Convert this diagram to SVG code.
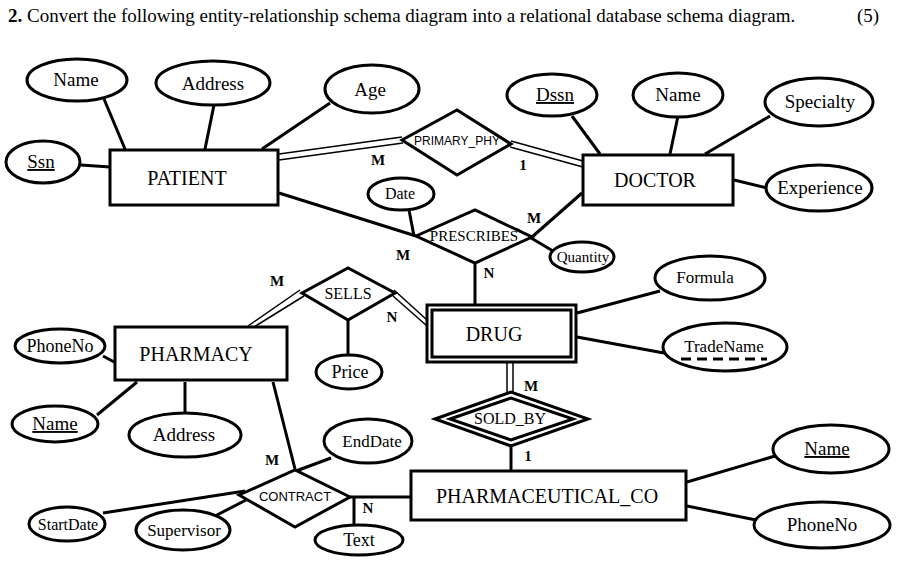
<svg xmlns="http://www.w3.org/2000/svg" width="905" height="561" viewBox="0 0 905 561">
<style>
.s{fill:#fff;stroke:#000;stroke-width:3}
.l{stroke:#000;stroke-width:3;fill:none}
.d{stroke:#000;stroke-width:1.5;fill:none}
text{font-family:"Liberation Serif",serif;fill:#000;text-anchor:middle}
.e{font-size:20px}
.a{font-size:19px}
.ss{font-family:"Liberation Sans",sans-serif}
.c{font-size:15px;font-weight:bold}
</style>
<rect width="905" height="561" fill="#fff"/>
<text x="8" y="22" font-size="19" style="text-anchor:start"><tspan font-weight="bold">2.</tspan> Convert the following entity-relationship schema diagram into a relational database schema diagram.</text>
<text x="868" y="22" font-size="19">(5)</text>
<g id="connectors">
<line class="l" x1="104" y1="99" x2="125" y2="149"/>
<line class="l" x1="214" y1="105" x2="205" y2="149"/>
<line class="l" x1="330" y1="103" x2="262" y2="149"/>
<line class="l" x1="81" y1="165" x2="110" y2="167"/>
<line class="d" x1="279" y1="154" x2="402" y2="137"/>
<line class="d" x1="279" y1="160" x2="403" y2="143"/>
<line class="d" x1="511" y1="141" x2="583" y2="161"/>
<line class="d" x1="510" y1="147" x2="583" y2="167"/>
<line class="l" x1="572" y1="116" x2="600" y2="154"/>
<line class="l" x1="678" y1="116" x2="670" y2="154"/>
<line class="l" x1="770" y1="116" x2="705" y2="154"/>
<line class="l" x1="767" y1="188" x2="734" y2="180"/>
<line class="l" x1="279" y1="193" x2="416" y2="236"/>
<line class="l" x1="409" y1="210" x2="414" y2="236"/>
<line class="l" x1="582" y1="193" x2="532" y2="237"/>
<line class="l" x1="516" y1="229" x2="553" y2="251"/>
<line class="l" x1="475" y1="263" x2="475" y2="304"/>
<line class="l" x1="577" y1="313" x2="660" y2="291"/>
<line class="l" x1="577" y1="337" x2="664" y2="353"/>
<line class="d" x1="507" y1="362" x2="507" y2="393"/>
<line class="d" x1="513" y1="362" x2="513" y2="393"/>
<line class="l" x1="511" y1="446" x2="511" y2="471"/>
<line class="l" x1="687" y1="482" x2="775" y2="456"/>
<line class="l" x1="687" y1="506" x2="756" y2="520"/>
<line class="d" x1="248" y1="326" x2="300" y2="290"/>
<line class="d" x1="254" y1="327" x2="304" y2="296"/>
<line class="d" x1="394" y1="290" x2="427" y2="320"/>
<line class="d" x1="393" y1="296" x2="427" y2="326"/>
<line class="l" x1="348" y1="320" x2="348" y2="355"/>
<line class="l" x1="103" y1="356" x2="116" y2="363"/>
<line class="l" x1="97" y1="415" x2="137" y2="382"/>
<line class="l" x1="185" y1="413" x2="185" y2="382"/>
<line class="l" x1="273" y1="382" x2="295" y2="469"/>
<line class="l" x1="331" y1="458" x2="296" y2="471"/>
<line class="l" x1="103" y1="513" x2="245" y2="491"/>
<line class="l" x1="215" y1="516" x2="246" y2="500"/>
<line class="l" x1="354" y1="497" x2="354" y2="525"/>
<line class="l" x1="350" y1="497" x2="411" y2="497"/>
</g>
<g id="patient"><rect class="s" x="110" y="150" width="168" height="55"/><text class="e" x="187" y="185">PATIENT</text></g>
<g id="p_name"><ellipse class="s" cx="77" cy="80" rx="50" ry="21"/><text class="a" x="76" y="86">Name</text></g>
<g id="p_address"><ellipse class="s" cx="213" cy="83" rx="57" ry="22"/><text class="a" x="213" y="90">Address</text></g>
<g id="p_age"><ellipse class="s" cx="372" cy="89" rx="47" ry="24"/><text class="a" x="370" y="96">Age</text></g>
<g id="p_ssn"><ellipse class="s" cx="43" cy="162" rx="37" ry="21"/><text class="a" x="41" y="168" text-decoration="underline">Ssn</text></g>
<g id="primary_phy"><polygon class="s" points="402,140 457,110 511,144 457,175"/><text class="ss" x="457" y="145" font-size="12">PRIMARY_PHY</text></g>
<g id="doctor"><rect class="s" x="583" y="155" width="150" height="50"/><text class="e" x="655" y="187">DOCTOR</text></g>
<g id="d_dssn"><ellipse class="s" cx="552" cy="95" rx="45" ry="21"/><text class="a" x="555" y="101" text-decoration="underline">Dssn</text></g>
<g id="d_name"><ellipse class="s" cx="678" cy="95" rx="45" ry="22"/><text class="a" x="678" y="101">Name</text></g>
<g id="d_specialty"><ellipse class="s" cx="819" cy="102" rx="54" ry="24"/><text class="a" x="820" y="108">Specialty</text></g>
<g id="d_experience"><ellipse class="s" cx="819" cy="188" rx="53" ry="23"/><text class="a" x="820" y="194">Experience</text></g>
<g id="prescribes"><polygon class="s" points="416,236 475,210 532,237 475,263"/><text x="474" y="241" font-size="15">PRESCRIBES</text></g>
<g id="date"><ellipse class="s" cx="401" cy="194" rx="33" ry="16"/><text x="400" y="199" font-size="16">Date</text></g>
<g id="quantity"><ellipse class="s" cx="582" cy="257" rx="32" ry="15"/><text x="583" y="262" font-size="15">Quantity</text></g>
<g id="drug"><rect class="s" x="427" y="305" width="149" height="57"/><rect class="s" x="432" y="310" width="139" height="47"/><text class="e" x="494" y="341">DRUG</text></g>
<g id="formula"><ellipse class="s" cx="710" cy="278" rx="55" ry="22"/><text x="705" y="283" font-size="17">Formula</text></g>
<g id="tradename"><ellipse class="s" cx="725" cy="347" rx="62" ry="24"/><text x="724" y="352" font-size="17">TradeName</text><line x1="681" y1="359" x2="767" y2="359" stroke="#000" stroke-width="3" stroke-dasharray="10,6"/></g>
<g id="sold_by"><polygon class="s" points="435,419 511,392 588,419 511,446"/><polygon class="s" points="450,419 511,398 573,419 511,440"/><text x="510" y="424" font-size="16">SOLD_BY</text></g>
<g id="pharm_co"><rect class="s" x="411" y="471" width="275" height="49"/><text class="e" x="547" y="503">PHARMACEUTICAL_CO</text></g>
<g id="pc_name"><ellipse class="s" cx="831" cy="449" rx="58" ry="24"/><text class="a" x="827" y="455" text-decoration="underline">Name</text></g>
<g id="pc_phone"><ellipse class="s" cx="822" cy="525" rx="68" ry="23"/><text class="a" x="822" y="531">PhoneNo</text></g>
<g id="sells"><polygon class="s" points="302,293 348,268 395,293 348,320"/><text x="348" y="299" font-size="16">SELLS</text></g>
<g id="price"><ellipse class="s" cx="349" cy="372" rx="33" ry="17"/><text x="350" y="378" font-size="18">Price</text></g>
<g id="pharmacy"><rect class="s" x="115" y="327" width="172" height="53"/><text class="e" x="196" y="361">PHARMACY</text></g>
<g id="ph_phone"><ellipse class="s" cx="60" cy="346" rx="45" ry="17"/><text x="60" y="352" font-size="18">PhoneNo</text></g>
<g id="ph_name"><ellipse class="s" cx="55" cy="424" rx="43" ry="18"/><text class="a" x="55" y="430" text-decoration="underline">Name</text></g>
<g id="ph_address"><ellipse class="s" cx="185" cy="435" rx="56" ry="22"/><text class="a" x="184" y="441">Address</text></g>
<g id="contract"><polygon class="s" points="239,495 295,470 350,497 295,527"/><text class="ss" x="295" y="501" font-size="13">CONTRACT</text></g>
<g id="enddate"><ellipse class="s" cx="368" cy="441" rx="44" ry="22"/><text x="372" y="447" font-size="17">EndDate</text></g>
<g id="startdate"><ellipse class="s" cx="67" cy="524" rx="38" ry="17"/><text x="68" y="530" font-size="16">StartDate</text></g>
<g id="supervisor"><ellipse class="s" cx="183" cy="530" rx="47" ry="20"/><text x="184" y="536" font-size="17">Supervisor</text></g>
<g id="text_attr"><ellipse class="s" cx="359" cy="540" rx="44" ry="15"/><text x="359" y="546" font-size="18">Text</text></g>
<g id="cardinalities">
<text class="c" x="378" y="165">M</text>
<text class="c" x="523" y="170">1</text>
<text class="c" x="534" y="223">M</text>
<text class="c" x="403" y="260">M</text>
<text class="c" x="489" y="278">N</text>
<text class="c" x="277" y="286">M</text>
<text class="c" x="392" y="322">N</text>
<text class="c" x="531" y="391">M</text>
<text class="c" x="528" y="461">1</text>
<text class="c" x="272" y="465" font-size="13">M</text>
<text class="c" x="368" y="513" font-size="13">N</text>
</g>
</svg>
